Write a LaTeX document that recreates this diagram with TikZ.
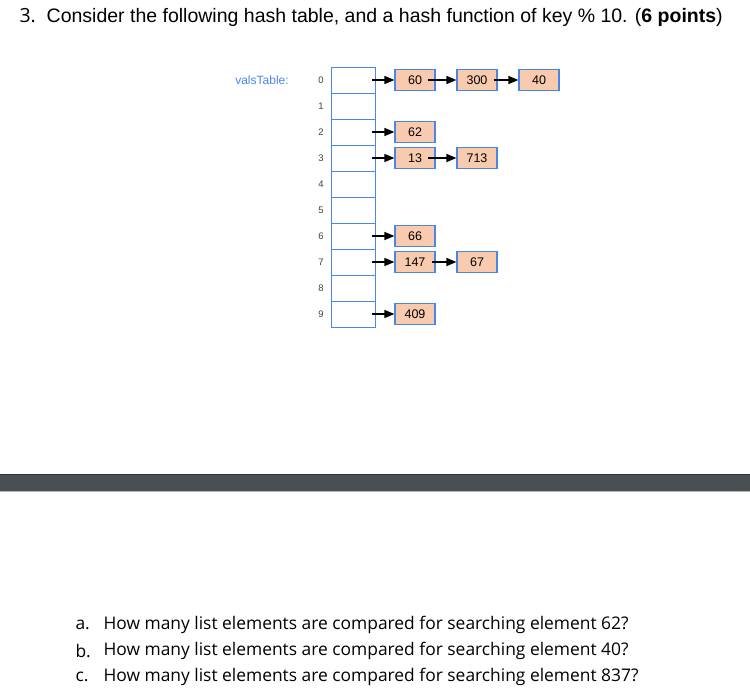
\documentclass[tikz,border=0pt]{standalone}
\usepackage{fontspec}
\setmainfont{Liberation Sans}
\newfontfamily\qfont{Open Sans}
\usetikzlibrary{arrows.meta}
\definecolor{tblue}{HTML}{4A86E8}
\definecolor{tfill}{HTML}{F9CBAE}
\definecolor{bar}{HTML}{4A4F54}
\begin{document}
\begin{tikzpicture}[x=1pt,y=-1pt,
 cell/.style={draw=tblue,line width=1.2pt,minimum width=44pt,minimum height=26pt,inner sep=0,anchor=north west},
 elem/.style={draw=tblue,fill=tfill,line width=1.2pt,minimum width=40pt,minimum height=21pt,inner sep=0,font=\fontsize{12.5}{14}\selectfont},
 idx/.style={font=\fontsize{9.5}{11}\selectfont,text=black!75},
 arr/.style={-{Triangle[length=10pt,width=8pt]},line width=1.4pt}]
\useasboundingbox (0,0) rectangle (750,699);
\node[anchor=west,font=\fontsize{19.5}{22}\selectfont] (title) at (16,17) {{\qfont 3.}\ \ Consider the following hash table, and a hash function of key \% 10. (\textbf{6 points})};
\node[text=tblue,font=\fontsize{12}{14}\selectfont] (lbl) at (262,80) {valsTable:};
\foreach \i in {0,...,9}{
  \node[cell] (c\i) at (331,{67+26*\i}) {};
  \node[idx] (i\i) at (321,{80+26*\i}) {\i};
}
\foreach \n/\x/\r/\t in {a0/415/0/60,b0/477/0/300,d0/539/0/40,a2/415/2/62,a3/415/3/13,b3/477/3/713,a6/415/6/66,a7/415/7/147,b7/477/7/67,a9/415/9/409}
  \node[elem] (\n) at (\x,{80+26*\r}) {\t};
\foreach \r in {0,2,3,6,7,9}{
  \coordinate (s\r) at (372,{80+26*\r});
  \draw[arr] (s\r) -- (a\r.west);
}
\draw[arr] ([xshift=-8pt]a0.east) -- (b0.west);
\draw[arr] ([xshift=-4pt]b0.east) -- (d0.west);
\draw[arr] ([xshift=-8pt]a3.east) -- (b3.west);
\draw[arr] ([xshift=-4pt]a7.east) -- (b7.west);
\fill[bar] (0,474) rectangle (750,491);
\draw[black!80,line width=1pt] (0,474) -- (750,474);
\draw[black!30,line width=1pt] (0,491) -- (750,491);
\begin{scope}[every node/.style={anchor=west,font=\qfont\fontsize{17.4}{20}\selectfont}]
\node (qa) at (72,625) {a.};
\node (ta) at (100,625) {How many list elements are compared for searching element 62?};
\node (qb) at (72,651) {b.};
\node (tb) at (100,651) {How many list elements are compared for searching element 40?};
\node (qc) at (72,677) {c.};
\node (tc) at (100,677) {How many list elements are compared for searching element 837?};
\end{scope}
\end{tikzpicture}
\end{document}
